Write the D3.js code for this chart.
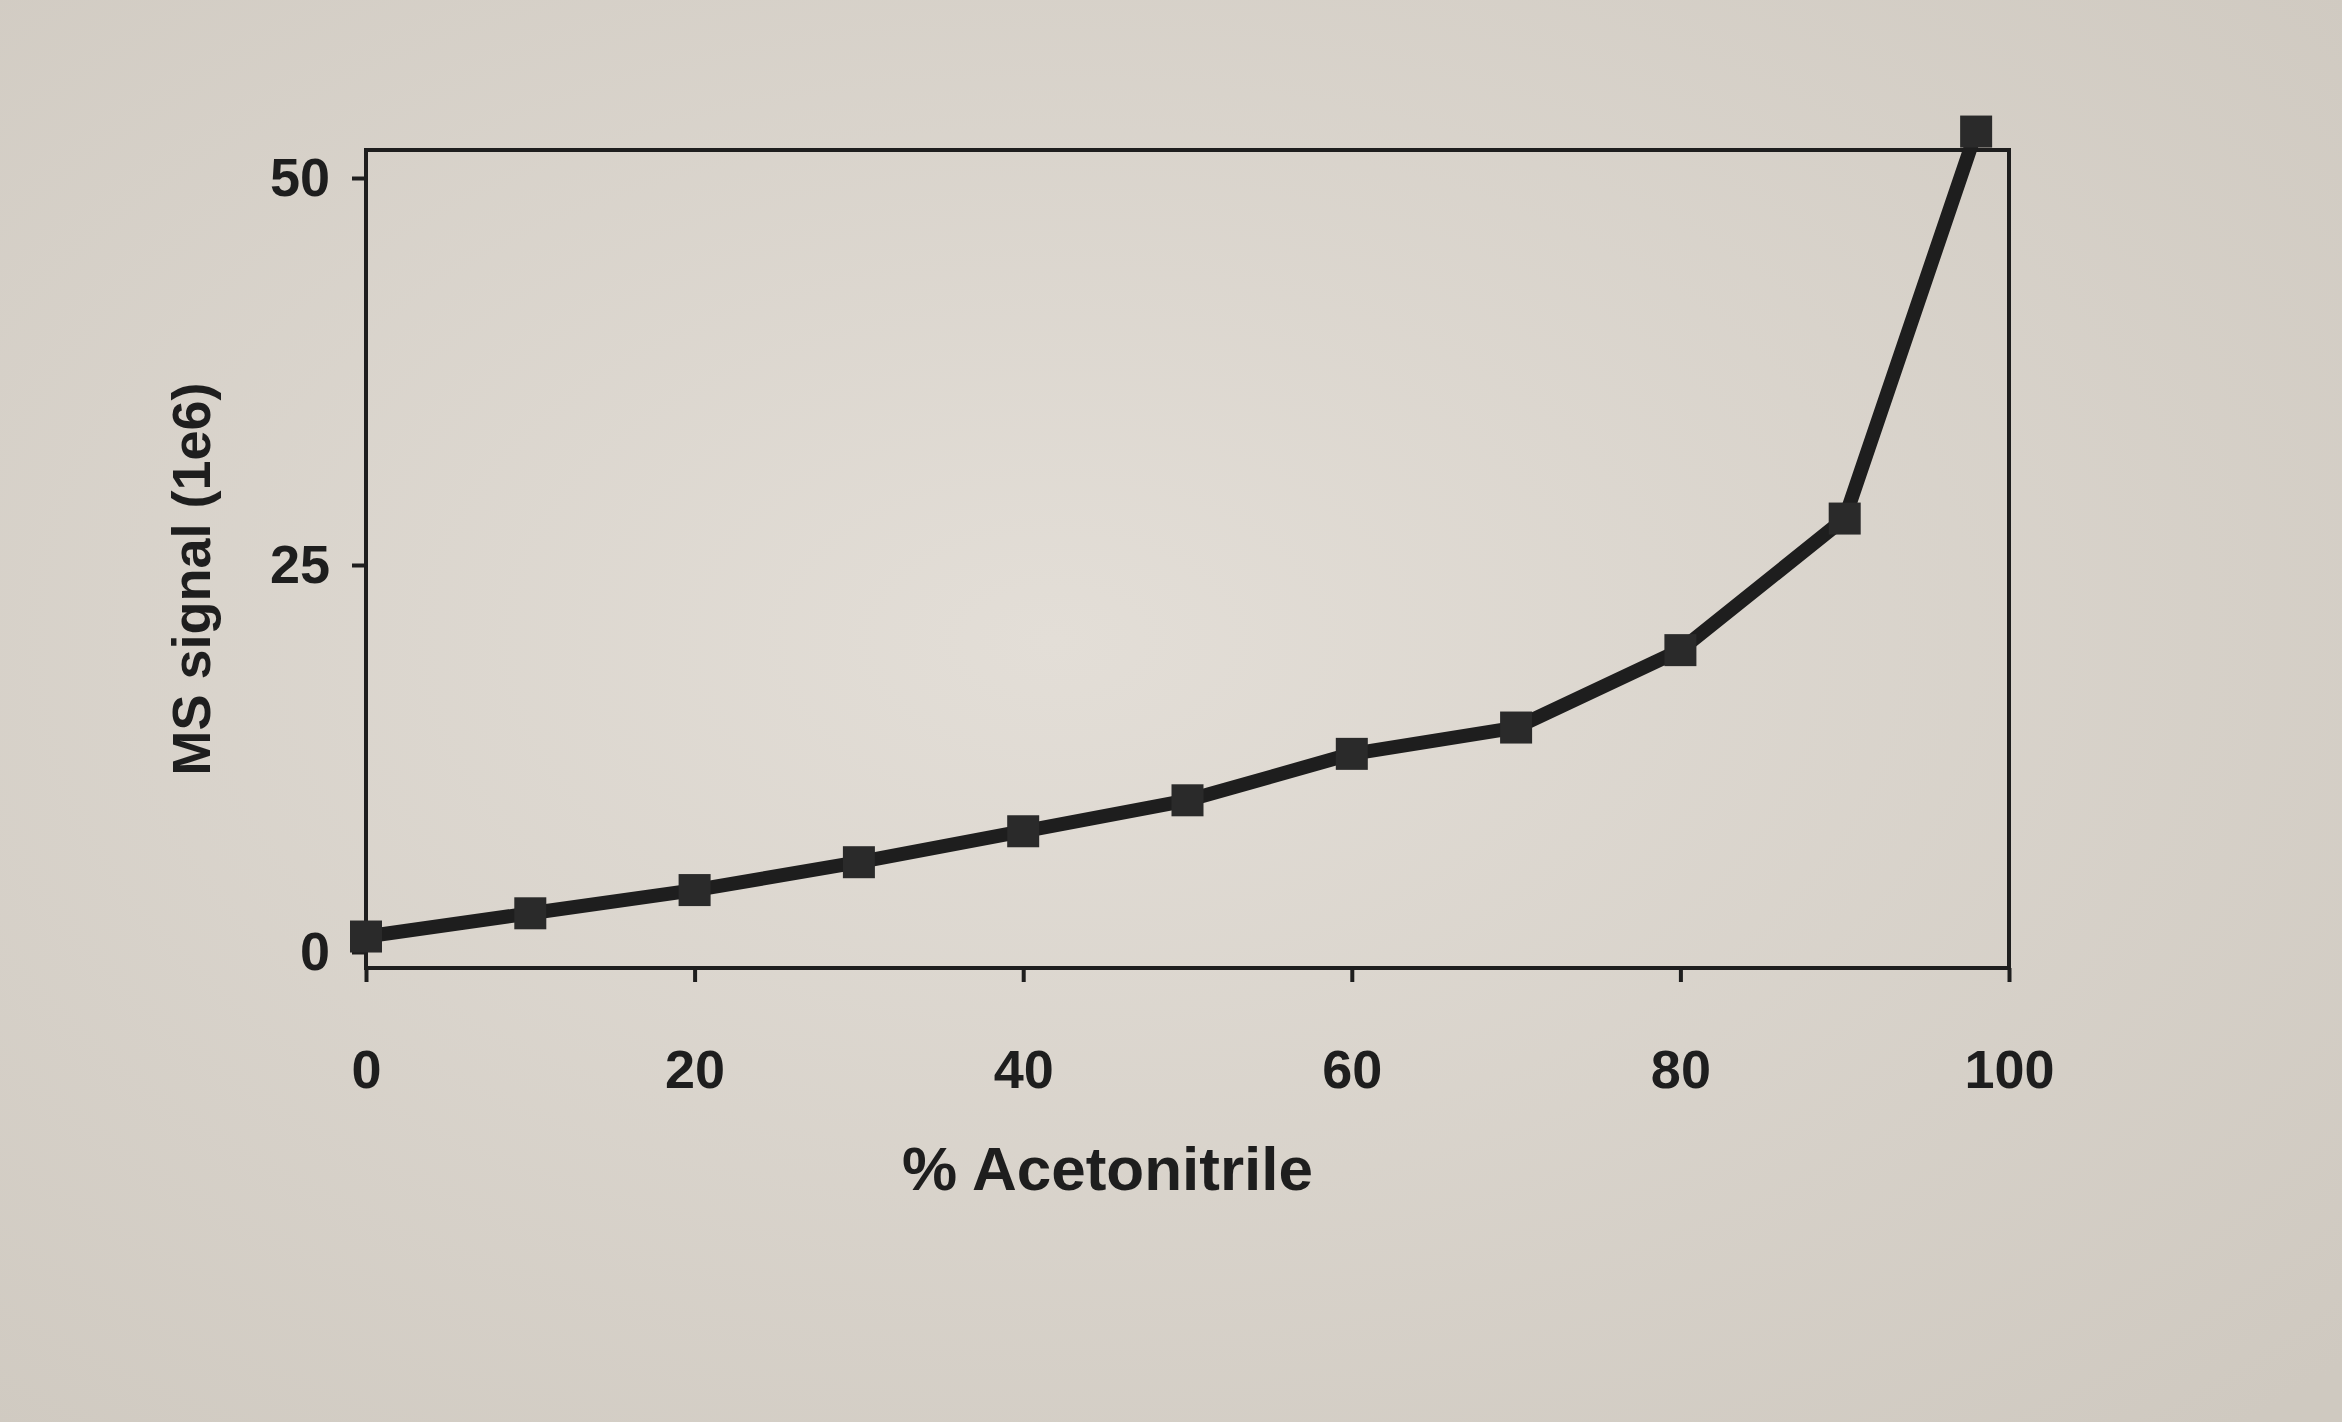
<!DOCTYPE html>
<html><head><meta charset="utf-8">
<script src="https://cdn.jsdelivr.net/npm/d3@7"></script>
<style>body{margin:0;background:#d8d3cb;}svg{display:block}</style></head>
<body><script>
const xValues=[0,10,20,30,40,50,60,70,80,90,98];
const yValues=[1,2.5,4,5.8,7.8,9.8,12.8,14.5,19.5,28,53];
const xTicks=[0,20,40,60,80,100];
const yTicks=[0,25,50];
const W=2342,H=1422;
const svg=d3.select("body").append("svg").attr("width",W).attr("height",H);
const defs=svg.append("defs");
const g=defs.append("radialGradient").attr("id","bg").attr("cx","45%").attr("cy","45%").attr("r","75%");
g.append("stop").attr("offset","0%").attr("stop-color","#e3ded7");
g.append("stop").attr("offset","100%").attr("stop-color","#cfc9c0");
svg.append("rect").attr("width",W).attr("height",H).attr("fill","url(#bg)");
const L=366,R=2009,T=150,B=968;
const x=d3.scaleLinear().domain([0,100]).range([L,R]);
const y=d3.scaleLinear().domain([0,50]).range([952,178]);
const ink="#1e1e1e";
svg.append("rect").attr("x",L).attr("y",T).attr("width",R-L).attr("height",B-T).attr("fill","none").attr("stroke",ink).attr("stroke-width",4);
const font="Liberation Sans, Arial, sans-serif";
const xa=svg.append("g").attr("transform",`translate(0,${B})`).call(d3.axisBottom(x).tickValues(xTicks).tickSize(14).tickPadding(68));
const ya=svg.append("g").attr("transform",`translate(${L},0)`).call(d3.axisLeft(y).tickValues(yTicks).tickSize(14).tickPadding(22));
[xa,ya].forEach(a=>{a.select(".domain").remove();a.selectAll("line").attr("stroke",ink).attr("stroke-width",4);
a.selectAll("text").attr("font-family",font).attr("font-weight","bold").attr("font-size",54).attr("fill",ink);});
svg.append("text").attr("x",(L+R)/2-80).attr("y",1190).attr("text-anchor","middle").attr("font-family",font).attr("font-weight","bold").attr("font-size",62).attr("fill",ink).text("% Acetonitrile");
svg.append("text").attr("transform",`translate(210,${(T+B)/2+20}) rotate(-90)`).attr("text-anchor","middle").attr("font-family",font).attr("font-weight","bold").attr("font-size",54).attr("fill",ink).text("MS signal (1e6)");
const pts=xValues.map((v,i)=>[x(v),y(yValues[i])]);
svg.append("path").attr("d",d3.line()(pts)).attr("fill","none").attr("stroke",ink).attr("stroke-width",14).attr("stroke-linejoin","round");
svg.selectAll(".m").data(pts).enter().append("rect").attr("x",d=>d[0]-16).attr("y",d=>d[1]-16).attr("width",32).attr("height",32).attr("fill","#2a2a2a");
</script></body></html>
